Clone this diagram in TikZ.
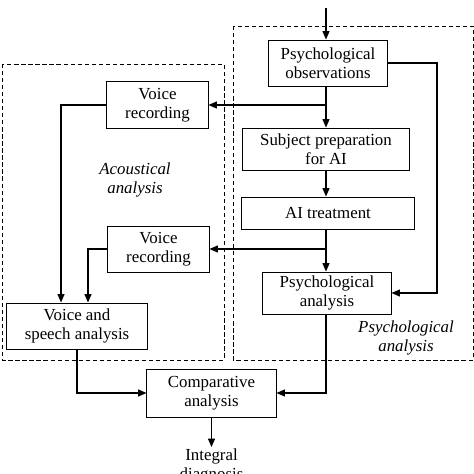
\documentclass[tikz,border=0pt]{standalone}
\usepackage{fontspec}
\setmainfont{Liberation Serif}
\usetikzlibrary{arrows.meta,calc}

\begin{document}
\begin{tikzpicture}[x=0.025cm,y=-0.025cm,thick,
           every node/.style={inner sep=1pt,align=center,font=\fontsize{12}{13.5}\selectfont},
           box/.style={draw,line width=0.7pt},
           frame/.style={dashed,line width=0.7pt,dash pattern=on 3pt off 2pt},
           >={Triangle[length=6pt,width=5pt]}]
           \useasboundingbox[fill=white](0,0)rectangle(474,474);
           % dashed groups
           \draw[frame](2,64)rectangle(224,360);
           \draw[frame](233,26)rectangle(473,360);
           \node at (135,180){\textit{Acoustical}\\\textit{analysis}};
           \node at (406,338){\textit{Psychological}\\\textit{analysis}};
           % blocks
           \node[box,minimum width=2.975cm,minimum height=1.15cm](obs) at (328,63){Psychological\\observations};
           \node[box,minimum width=4.15cm,minimum height=1.05cm](prep) at (326,149){Subject preparation\\for AI};
           \node[box,minimum width=4.3cm,minimum height=0.8cm](ait) at (328,213){AI treatment};
           \node[box,minimum width=3.2cm,minimum height=1.05cm](pan) at (327,293){Psychological\\analysis};
           \node[box,minimum width=2.525cm,minimum height=1.175cm](vr1) at (157.5,105){Voice\\recording};
           \node[box,minimum width=2.525cm,minimum height=1.15cm](vr2) at (158.5,249){Voice\\recording};
           \node[box,minimum width=3.5cm,minimum height=1.15cm](vsa) at (77,326){Voice and\\speech analysis};
           \node[box,minimum width=3.225cm,minimum height=1.2cm](cmp) at (211.5,393){Comparative\\analysis};
           \node[anchor=north](out) at (211.5,447){Integral\\diagnosis};
           % helper points
           \coordinate(in) at (326,8);
           \coordinate(b1) at (326,105);
           \coordinate(b2) at (326,249);
           \coordinate(r) at (437,0);
           \coordinate(l1) at (61,0);
           \coordinate(l2) at (88,0);
           % links
           \draw[->](in)--(in|-obs.north);
           \draw[->](b1|-obs.south)--(b1|-prep.north);
           \draw[->](b1)--(vr1.east);
           \draw[->](b1|-prep.south)--(b1|-ait.north);
           \draw[->](b2|-ait.south)--(b2|-pan.north);
           \draw[->](b2)--(vr2.east);
           \draw[->](obs.east)-|(r|-pan.east)--(pan.east);
           \draw[->](vr1.west)-|(l1|-vsa.north);
           \draw[->](vr2.west)-|(l2|-vsa.north);
           \draw[->](vsa.south)|-(cmp.west);
           \draw[->](b2|-pan.south)|-(cmp.east);
           \draw[->](cmp.south)--(out.north);
         \end{tikzpicture}
\end{document}
